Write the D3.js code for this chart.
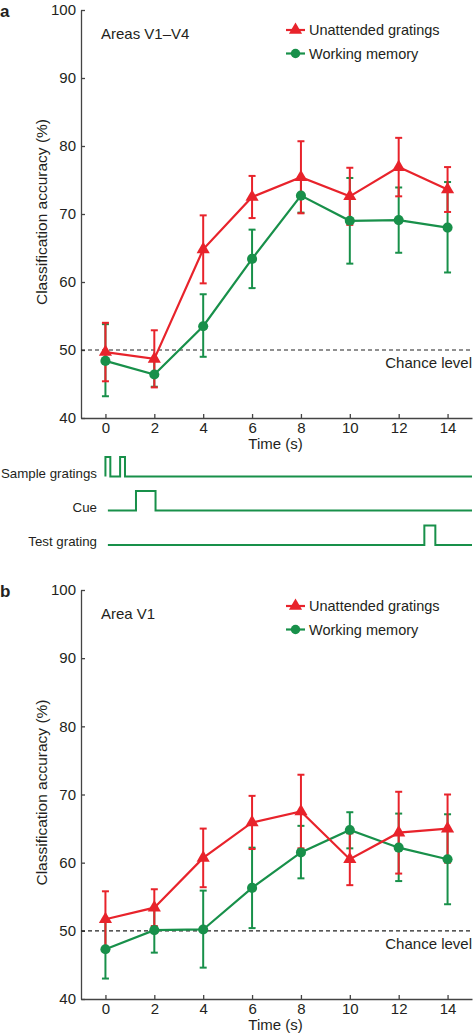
<!DOCTYPE html>
<html>
<head>
<meta charset="utf-8">
<script src="https://cdn.jsdelivr.net/npm/d3@7"></script>
<style>
  body { margin: 0; background: #fff; }
  svg text { font-family: "Liberation Sans", Arial, sans-serif; fill: #231f20; }
</style>
</head>
<body>
<svg id="chart" width="474" height="1036"></svg>
<script>
// time points (s)
var times = [0, 2, 4, 6, 8, 10, 12, 14];

// panel a: areas V1-V4
var aUnatt    = [49.7, 48.7, 64.8, 72.5, 75.4, 72.6, 76.9, 73.6];
var aUnattErr = [4.3, 4.2, 5.0, 3.1, 5.3, 4.2, 4.3, 3.3];
var aWm       = [48.4, 46.4, 53.5, 63.4, 72.7, 69.0, 69.1, 68.0];
var aWmHi     = [53.8, 48.7, 58.2, 67.7, 75.4, 75.3, 73.9, 74.7];
var aWmLo     = [43.2, 44.6, 49.0, 59.1, 70.2, 62.7, 64.3, 61.4];

// panel b: area V1
var bUnatt    = [51.7, 53.4, 60.7, 65.9, 67.5, 60.5, 64.4, 65.0];
var bUnattErr = [4.1, 2.7, 4.3, 3.9, 5.4, 3.8, 6.0, 5.0];
var bWm       = [47.3, 50.1, 50.2, 56.3, 61.5, 64.8, 62.2, 60.5];
var bWmHi     = [51.7, 53.5, 55.9, 62.2, 65.4, 67.4, 67.2, 67.1];
var bWmLo     = [43.0, 46.8, 44.6, 50.4, 57.7, 62.1, 57.3, 53.9];

var yTicks = [40, 50, 60, 70, 80, 90, 100];
var xTicks = [0, 2, 4, 6, 8, 10, 12, 14];
var chance = 50;

// trial timeline: [start, end] of each pulse, in s
var timeline = [
  {label: "Sample gratings", start: 0,   end: 15, pulses: [[0, 0.2], [0.6, 0.8]]},
  {label: "Cue",             start: 0.1, end: 15, pulses: [[1.25, 2.05]]},
  {label: "Test grating",    start: 0.1, end: 15, pulses: [[13.05, 13.5]]}
];

var RED = "#e8232b", GREEN = "#18904a";
var svg = d3.select("#chart");
var x = d3.scaleLinear().domain([-1, 15]).range([81, 472]);

function panel(cfg) {
  var y = d3.scaleLinear().domain([40, 100]).range([cfg.bottom, cfg.top]);
  var g = svg.append("g");

  g.append("g").attr("transform", "translate(81,0)")
    .call(d3.axisLeft(y).tickValues(yTicks).tickSizeInner(-4).tickSizeOuter(0).tickPadding(5))
    .call(function(s) {
      s.selectAll("text").attr("font-size", 15).attr("font-family", null);
      s.selectAll("line,path").attr("stroke", "#444").attr("stroke-width", 1.3);
    });
  g.append("g").attr("transform", "translate(0," + cfg.bottom + ")")
    .call(d3.axisBottom(x).tickValues(xTicks).tickSizeInner(-4).tickSizeOuter(0).tickPadding(4))
    .call(function(s) {
      s.selectAll("text").attr("font-size", 15).attr("font-family", null);
      s.selectAll("line,path").attr("stroke", "#444").attr("stroke-width", 1.3);
    });

  g.append("text").attr("x", (81 + 472) / 2 - 1).attr("y", cfg.bottom + 31)
    .attr("text-anchor", "middle").attr("font-size", 15).text("Time (s)");
  g.append("text")
    .attr("transform", "translate(47," + ((cfg.top + cfg.bottom) / 2 - 2) + ") rotate(-90)")
    .attr("text-anchor", "middle").attr("font-size", 15.5).text("Classification accuracy (%)");
  g.append("text").attr("x", 0).attr("y", cfg.top + 7).attr("font-size", 17)
    .attr("font-weight", "bold").text(cfg.letter);
  g.append("text").attr("x", 101).attr("y", cfg.top + 29).attr("font-size", 15).text(cfg.title);

  // chance level
  g.append("line").attr("x1", 81).attr("x2", 472).attr("y1", y(chance)).attr("y2", y(chance))
    .attr("stroke", "#222").attr("stroke-width", 1.1).attr("stroke-dasharray", "4,3");
  g.append("text").attr("x", 472).attr("y", y(chance) + 18).attr("text-anchor", "end")
    .attr("font-size", 15).text("Chance level");

  var series = [
    {m: cfg.wm, hi: cfg.wmHi, lo: cfg.wmLo, c: GREEN, sym: d3.symbolCircle, size: 80},
    {m: cfg.un, hi: cfg.un.map(function(v, i) { return v + cfg.unErr[i]; }),
     lo: cfg.un.map(function(v, i) { return v - cfg.unErr[i]; }), c: RED, sym: d3.symbolTriangle, size: 75}
  ];
  // error bars first, then lines and markers
  series.forEach(function(s) {
    var eb = g.append("g").attr("stroke", s.c).attr("stroke-width", 2);
    times.forEach(function(t, i) {
      eb.append("line").attr("x1", x(t)).attr("x2", x(t)).attr("y1", y(s.lo[i])).attr("y2", y(s.hi[i]));
      [s.lo[i], s.hi[i]].forEach(function(v) {
        eb.append("line").attr("x1", x(t) - 3.5).attr("x2", x(t) + 3.5).attr("y1", y(v)).attr("y2", y(v));
      });
    });
  });
  series.forEach(function(s) {
    g.append("path").datum(s.m)
      .attr("d", d3.line().x(function(d, i) { return x(times[i]); }).y(function(d) { return y(d); }))
      .attr("fill", "none").attr("stroke", s.c).attr("stroke-width", 2.2);
    g.selectAll(null).data(s.m).enter().append("path")
      .attr("transform", function(d, i) { return "translate(" + x(times[i]) + "," + y(d) + ")"; })
      .attr("d", d3.symbol().type(s.sym).size(s.size)).attr("fill", s.c);
  });

  // legend
  var legend = [
    {name: "Unattended gratings", c: RED, sym: d3.symbolTriangle, size: 75},
    {name: "Working memory", c: GREEN, sym: d3.symbolCircle, size: 70}
  ];
  legend.forEach(function(l, i) {
    var ly = cfg.top + cfg.legY + i * 23.5;
    g.append("line").attr("x1", 286).attr("x2", 305).attr("y1", ly).attr("y2", ly)
      .attr("stroke", l.c).attr("stroke-width", 2.2);
    g.append("path").attr("transform", "translate(295.5," + ly + ")")
      .attr("d", d3.symbol().type(l.sym).size(l.size)).attr("fill", l.c);
    g.append("text").attr("x", 309).attr("y", ly + 5).attr("font-size", 14.5).text(l.name);
  });
}

panel({top: 10, bottom: 418, letter: "a", title: "Areas V1\u2013V4", legY: 20,
       un: aUnatt, unErr: aUnattErr, wm: aWm, wmHi: aWmHi, wmLo: aWmLo});
panel({top: 590, bottom: 999, letter: "b", title: "Area V1", legY: 16,
       un: bUnatt, unErr: bUnattErr, wm: bWm, wmHi: bWmHi, wmLo: bWmLo});

// trial timeline
var rowBase = [476.5, 510.5, 545], pulseH = 19.5;
timeline.forEach(function(row, r) {
  var b = rowBase[r], pts = [[row.start, 0]];
  if (row.pulses[0][0] === row.start) pts = [];
  row.pulses.forEach(function(p) { pts.push([p[0], 0], [p[0], 1], [p[1], 1], [p[1], 0]); });
  pts.push([row.end, 0]);
  svg.append("path").datum(pts)
    .attr("d", d3.line().x(function(d) { return x(d[0]); }).y(function(d) { return b - d[1] * pulseH; }))
    .attr("fill", "none").attr("stroke", GREEN).attr("stroke-width", 2);
  svg.append("text").attr("x", 97).attr("y", b + 1).attr("text-anchor", "end")
    .attr("font-size", 13.3).text(row.label);
});
</script>
</body>
</html>
